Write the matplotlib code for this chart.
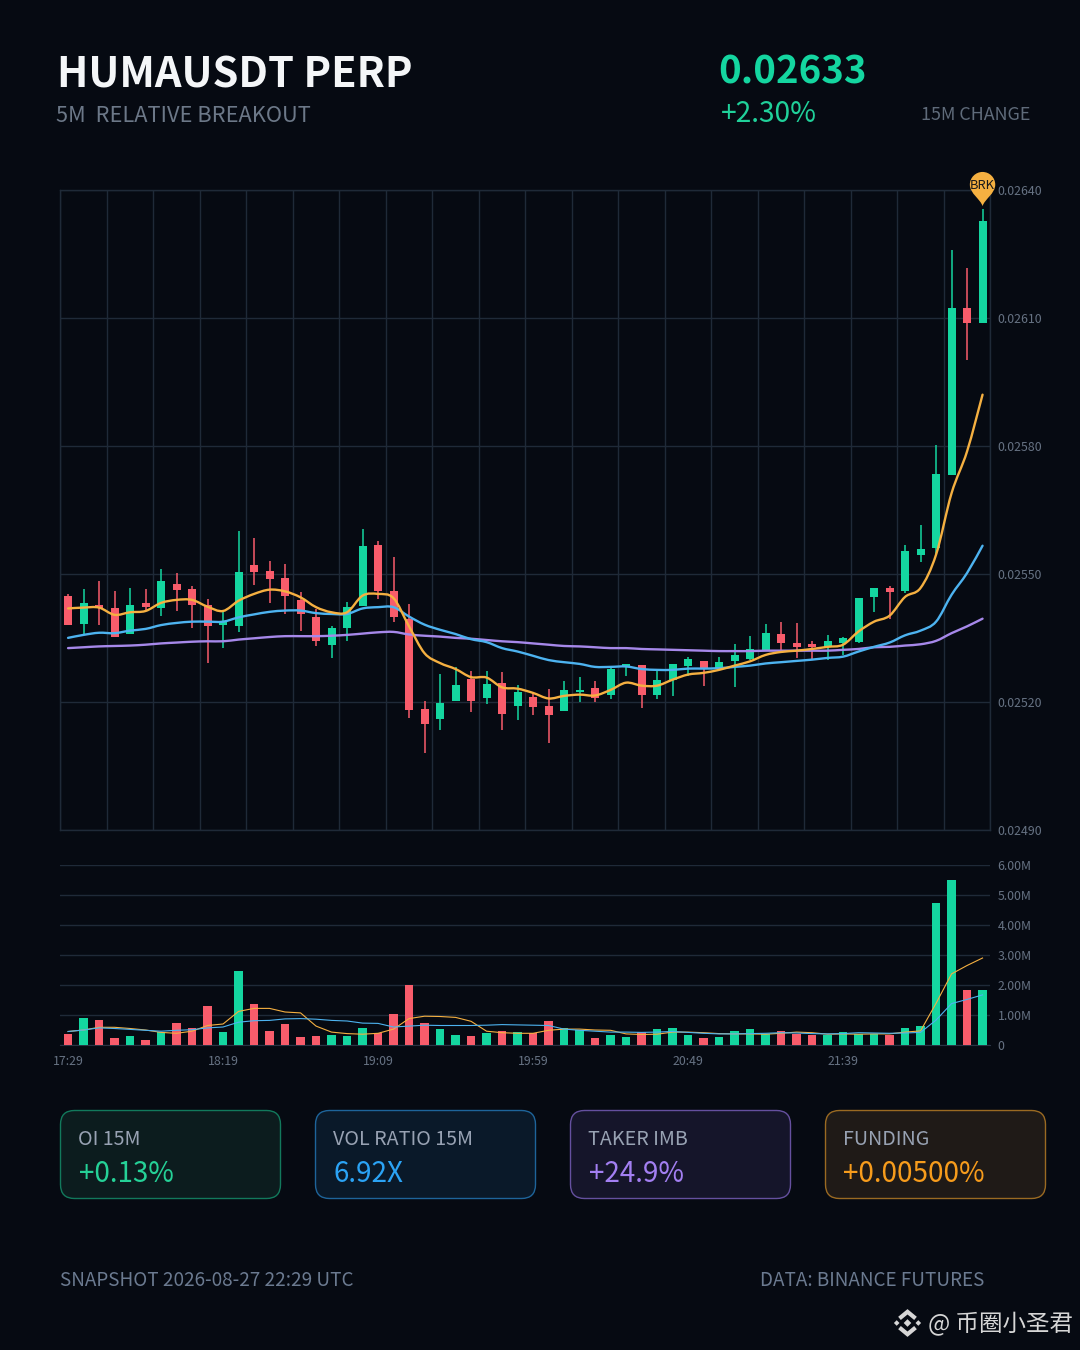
import matplotlib
matplotlib.use("Agg")
import matplotlib.pyplot as plt
import numpy as np
from matplotlib.patches import FancyBboxPatch, PathPatch, Polygon
from matplotlib.path import Path

plt.rcParams['font.family'] = ['Noto Sans CJK SC', 'DejaVu Sans']

# candles, prices in 1e-5 units
opens = [2544.9, 2538.4, 2542.9, 2542.1, 2535.9, 2543.2, 2542.2, 2547.7, 2546.5, 2542.8,
         2538.1, 2537.8, 2552.2, 2550.8, 2549.1, 2544.0, 2540.0, 2533.5, 2537.3, 2542.5,
         2556.9, 2546.1, 2539.5, 2518.4, 2516.1, 2520.4, 2525.4, 2521.1, 2524.5, 2519.2,
         2521.3, 2519.2, 2517.9, 2522.5, 2523.4, 2521.6, 2528.3, 2528.7, 2521.8, 2525.3,
         2528.6, 2529.7, 2528.1, 2529.7, 2530.2, 2532.3, 2536.1, 2533.9, 2533.6, 2533.0,
         2533.8, 2534.2, 2544.7, 2546.8, 2546.1, 2554.5, 2556.1, 2573.3, 2612.5, 2609.0]
closes = [2538.1, 2543.3, 2542.2, 2535.4, 2542.8, 2542.3, 2548.5, 2546.3, 2542.9, 2537.8,
          2538.9, 2550.6, 2550.5, 2549.0, 2544.8, 2540.7, 2534.3, 2537.4, 2542.3, 2556.7,
          2546.2, 2540.1, 2518.2, 2515.0, 2519.8, 2524.1, 2520.4, 2524.3, 2517.2, 2522.5,
          2519.0, 2517.1, 2522.9, 2522.9, 2521.1, 2527.9, 2529.0, 2521.6, 2525.2, 2529.0,
          2530.1, 2528.1, 2529.4, 2531.1, 2532.5, 2536.2, 2534.0, 2533.0, 2533.0, 2534.3,
          2535.1, 2544.4, 2546.9, 2545.8, 2555.5, 2555.9, 2573.4, 2612.5, 2609.0, 2632.9]
highs = [2545.4, 2546.6, 2548.5, 2546.1, 2546.9, 2546.6, 2551.2, 2550.3, 2547.3, 2544.2,
         2541.1, 2560.1, 2558.5, 2553.0, 2552.5, 2545.9, 2541.8, 2537.9, 2543.4, 2560.6,
         2557.9, 2554.1, 2543.1, 2520.3, 2526.6, 2528.2, 2527.4, 2527.3, 2527.0, 2524.0,
         2522.2, 2523.2, 2525.1, 2525.9, 2525.0, 2528.1, 2529.0, 2528.7, 2527.5, 2529.0,
         2530.6, 2529.7, 2530.7, 2533.7, 2535.6, 2538.4, 2538.9, 2538.6, 2534.4, 2535.8,
         2535.3, 2544.4, 2546.9, 2547.3, 2556.9, 2561.6, 2580.2, 2626.1, 2621.9, 2635.7]
lows = [2538.1, 2535.8, 2538.2, 2535.4, 2535.9, 2541.3, 2540.3, 2541.5, 2537.5, 2529.3,
        2532.8, 2536.4, 2547.6, 2543.3, 2540.8, 2536.7, 2533.1, 2530.4, 2534.3, 2542.5,
        2544.2, 2538.8, 2516.4, 2508.2, 2513.6, 2520.4, 2517.8, 2519.5, 2513.4, 2515.8,
        2517.1, 2510.5, 2517.9, 2520.0, 2520.1, 2520.8, 2526.1, 2518.6, 2520.7, 2521.4,
        2526.2, 2523.9, 2527.6, 2523.7, 2530.0, 2532.3, 2532.3, 2530.4, 2530.2, 2530.0,
        2531.1, 2533.8, 2541.1, 2539.6, 2545.7, 2552.9, 2554.8, 2573.3, 2600.3, 2609.0]

ma_fast = [2542.0, 2542.2, 2542.2, 2540.5, 2541.1, 2541.4, 2543.3, 2544.0, 2544.0, 2542.4,
           2541.4, 2543.8, 2545.4, 2546.4, 2546.0, 2544.6, 2542.3, 2541.1, 2541.1, 2545.0,
           2545.4, 2544.4, 2537.8, 2531.5, 2529.2, 2527.8, 2525.9, 2525.8, 2523.5, 2523.2,
           2522.2, 2520.9, 2521.5, 2521.8, 2521.6, 2522.9, 2524.6, 2523.9, 2523.9, 2525.3,
           2526.5, 2526.9, 2527.6, 2528.6, 2529.6, 2531.1, 2531.8, 2532.1, 2532.5, 2533.0,
           2533.5, 2536.6, 2538.9, 2540.3, 2544.7, 2546.8, 2554.6, 2569.0, 2578.8, 2592.1]
ma_mid = [2535.1, 2535.8, 2536.3, 2536.2, 2536.8, 2537.2, 2538.1, 2538.6, 2538.9, 2538.9,
          2538.9, 2539.9, 2540.6, 2541.2, 2541.5, 2541.5, 2540.9, 2540.7, 2540.7, 2542.0,
          2542.3, 2542.3, 2540.1, 2538.2, 2537.0, 2536.0, 2534.8, 2534.1, 2532.7, 2531.9,
          2530.9, 2529.9, 2529.4, 2529.0, 2528.3, 2528.3, 2528.4, 2527.8, 2527.6, 2527.6,
          2527.9, 2527.9, 2528.0, 2528.3, 2528.6, 2529.1, 2529.4, 2529.7, 2530.0, 2530.4,
          2530.7, 2531.9, 2533.0, 2534.0, 2535.7, 2536.8, 2538.9, 2545.2, 2550.3, 2556.7]
ma_slow = [2532.7, 2532.9, 2533.1, 2533.2, 2533.3, 2533.5, 2533.8, 2534.0, 2534.2, 2534.3,
           2534.3, 2534.7, 2535.0, 2535.3, 2535.5, 2535.5, 2535.5, 2535.6, 2535.8, 2536.1,
           2536.4, 2536.5, 2535.9, 2535.6, 2535.4, 2535.1, 2534.9, 2534.6, 2534.3, 2534.1,
           2533.8, 2533.5, 2533.2, 2533.1, 2532.9, 2532.7, 2532.7, 2532.5, 2532.4, 2532.3,
           2532.2, 2532.1, 2532.0, 2532.0, 2532.0, 2532.1, 2532.1, 2532.1, 2532.1, 2532.1,
           2532.3, 2532.5, 2532.9, 2533.0, 2533.3, 2533.6, 2534.4, 2536.2, 2537.8, 2539.6]

# volume in millions
volumes = [0.37, 0.90, 0.84, 0.23, 0.32, 0.18, 0.44, 0.76, 0.57, 1.31,
           0.44, 2.48, 1.39, 0.48, 0.71, 0.27, 0.32, 0.33, 0.31, 0.58,
           0.40, 1.04, 2.00, 0.76, 0.53, 0.33, 0.31, 0.40, 0.48, 0.44,
           0.40, 0.82, 0.57, 0.50, 0.23, 0.33, 0.27, 0.43, 0.53, 0.57,
           0.34, 0.26, 0.28, 0.48, 0.53, 0.38, 0.47, 0.38, 0.33, 0.33,
           0.46, 0.37, 0.39, 0.34, 0.57, 0.64, 4.73, 5.51, 1.84, 1.83]
vol_ma_fast = [0.46, 0.51, 0.60, 0.60, 0.56, 0.51, 0.43, 0.40, 0.47, 0.66,
               0.71, 1.13, 1.23, 1.23, 1.11, 1.08, 0.64, 0.44, 0.39, 0.37,
               0.40, 0.54, 0.89, 0.97, 0.96, 0.93, 0.80, 0.47, 0.42, 0.40,
               0.40, 0.50, 0.54, 0.54, 0.51, 0.50, 0.38, 0.36, 0.37, 0.44,
               0.44, 0.42, 0.39, 0.38, 0.38, 0.37, 0.40, 0.44, 0.42, 0.37,
               0.38, 0.37, 0.38, 0.38, 0.44, 0.48, 1.40, 2.38, 2.66, 2.91]
vol_ma_slow = [0.46, 0.51, 0.58, 0.56, 0.53, 0.50, 0.47, 0.50, 0.52, 0.58,
               0.61, 0.77, 0.82, 0.83, 0.88, 0.89, 0.87, 0.83, 0.81, 0.74,
               0.73, 0.61, 0.64, 0.67, 0.66, 0.66, 0.66, 0.67, 0.69, 0.68,
               0.67, 0.66, 0.54, 0.50, 0.47, 0.44, 0.44, 0.43, 0.44, 0.46,
               0.43, 0.40, 0.38, 0.38, 0.39, 0.40, 0.42, 0.41, 0.39, 0.38,
               0.39, 0.42, 0.41, 0.40, 0.41, 0.43, 0.84, 1.39, 1.53, 1.68]

price_ticks = [0.02490, 0.02520, 0.02550, 0.02580, 0.02610, 0.02640]
vol_ticks = [0, 1, 2, 3, 4, 5, 6]
vol_tick_labels = ["0", "1.00M", "2.00M", "3.00M", "4.00M", "5.00M", "6.00M"]
time_ticks = [0, 10, 20, 30, 40, 50]
time_labels = ["17:29", "18:19", "19:09", "19:59", "20:49", "21:39"]

opens = np.array(opens) / 1e5
closes = np.array(closes) / 1e5
highs = np.array(highs) / 1e5
lows = np.array(lows) / 1e5
x = np.arange(len(opens))

BG = "#060a12"
GRID = "#1f2a38"
GREEN = "#14d6a0"
RED = "#f85c6b"
ORANGE = "#f5b041"
BLUE = "#4db3f0"
PURPLE = "#a688ea"
TICK = "#667283"


def smooth_path(xs, ys):
    # catmull-rom as bezier, keeps the curve through every read value
    xs = np.asarray(xs, float)
    ys = np.asarray(ys, float)
    pts = np.column_stack([xs, ys])
    verts = [pts[0]]
    codes = [Path.MOVETO]
    for i in range(len(pts) - 1):
        p0 = pts[max(i - 1, 0)]
        p1 = pts[i]
        p2 = pts[i + 1]
        p3 = pts[min(i + 2, len(pts) - 1)]
        verts += [p1 + (p2 - p0) / 6, p2 - (p3 - p1) / 6, p2]
        codes += [Path.CURVE4, Path.CURVE4, Path.CURVE4]
    return Path(verts, codes)


W, H = 1080, 1350
fig = plt.figure(figsize=(W / 100, H / 100), dpi=100, facecolor=BG)


def axes_px(left, top, right, bottom):
    return fig.add_axes([left / W, 1 - bottom / H, (right - left) / W, (bottom - top) / H])


# price panel
ax = axes_px(60.3, 190.3, 990.3, 830.3)
ax.set_facecolor(BG)
ax.set_xlim(-0.5, 59.5)
ax.set_ylim(0.0249, 0.0264)
ax.set_xticks(np.arange(-0.5, 60, 3))
ax.set_yticks(price_ticks)
ax.grid(True, color=GRID, lw=1)
ax.set_axisbelow(True)
for s in ax.spines.values():
    s.set_color(GRID)
    s.set_linewidth(1)
ax.tick_params(length=0, labelbottom=False, labelleft=False, labelright=True,
               labelcolor=TICK, labelsize=8.9, pad=5.3)
ax.set_yticklabels(["%.5f" % t for t in price_ticks])

up = closes >= opens
colors = [GREEN if u else RED for u in up]
wicks = ax.vlines(x, lows, highs, colors=colors, lw=1.1, zorder=2)
wicks.set_snap(True)
ax.bar(x, np.abs(closes - opens), bottom=np.minimum(opens, closes), width=0.52,
       color=colors, zorder=3)

for vals, c in ((ma_slow, PURPLE), (ma_mid, BLUE), (ma_fast, ORANGE)):
    ax.add_patch(PathPatch(smooth_path(x, np.array(vals) / 1e5), fill=False, edgecolor=c,
                           lw=1.7, zorder=4, capstyle='round'))

# volume panel
vax = axes_px(60.3, 865.3, 990.3, 1045.3)
vax.set_facecolor(BG)
vax.set_xlim(-0.5, 59.5)
vax.set_ylim(0, 6)
for name, s in vax.spines.items():
    s.set_visible(name == "bottom")
    s.set_color("#2a3444")
vax.set_yticks(vol_ticks)
vax.set_yticklabels(vol_tick_labels)
vax.set_xticks(time_ticks)
vax.set_xticklabels(time_labels)
vax.yaxis.tick_right()
vax.grid(True, axis="y", color=GRID, lw=1)
vax.set_axisbelow(True)
vax.tick_params(axis="y", length=0, labelcolor=TICK, labelsize=8.9, pad=5.3)
vax.tick_params(axis="x", length=0, labelcolor=TICK, labelsize=8.9, pad=7)
vax.bar(x, volumes, width=0.56, color=colors, zorder=3)
vax.plot(x, vol_ma_fast, color=ORANGE, lw=0.8, zorder=4)
vax.plot(x, vol_ma_slow, color=BLUE, lw=0.8, zorder=4)

# overlay in pixel coordinates for header, cards and footer
ov = fig.add_axes([0, 0, 1, 1], zorder=10)
ov.set_xlim(0, W)
ov.set_ylim(H, 0)
ov.axis("off")
ov.patch.set_alpha(0)


def txt(px, py, s, size, color, ha="left", weight="normal"):
    ov.text(px, py, s, fontsize=size * 0.72, color=color, ha=ha, va="center", fontweight=weight)


txt(57, 75.5, "HUMAUSDT PERP", 41.6, "#f4f6f8", weight="bold")
txt(56, 116.5, "5M  RELATIVE BREAKOUT", 21.8, "#6c7888")
txt(718.5, 72.5, "0.02633", 38.4, GREEN, weight="bold")
txt(720.5, 114, "+2.30%", 28.1, "#20d19a")
txt(1030, 114.5, "15M CHANGE", 17.9, "#5f6b7a", ha="right")

cards = [
    (60.5, "OI 15M", "+0.13%", "#0c1c1e", "#12795c", "#25d197"),
    (315.5, "VOL RATIO 15M", "6.92X", "#0a1929", "#1e649a", "#2ba3f5"),
    (570.5, "TAKER IMB", "+24.9%", "#15152a", "#65509f", "#a37ff2"),
    (825.5, "FUNDING", "+0.00500%", "#1f1a17", "#9a6a22", "#f79c1c"),
]
for left, label, value, face, edge, vcolor in cards:
    ov.add_patch(FancyBboxPatch((left + 14, 1110.5 + 14), 220 - 28, 88 - 28,
                                boxstyle="round,pad=14,rounding_size=14",
                                facecolor=face, edgecolor=edge, lw=1))
    txt(left + 17.5, 1139.5, label, 19.7, "#98a2b3")
    txt(left + 18, 1173.5, value, 27.8, vcolor)

txt(60, 1281, "SNAPSHOT 2026-08-27 22:29 UTC", 18.9, "#6b7a90")
txt(984, 1281, "DATA: BINANCE FUTURES", 18.9, "#6b7a90", ha="right")

# BRK pin sitting on top of the last high
tip_px = ax.transData.transform((x[-1], highs[-1]))
tipx, tipy = ov.transData.inverted().transform(tip_px)
tipy -= 2.5
r = 12.7
cy = tipy - 21.5
k = 0.5523
pin = Path(
    [(tipx, tipy),
     (tipx - 2, tipy - 7), (tipx - r, cy + 9), (tipx - r, cy),
     (tipx - r, cy - k * r), (tipx - k * r, cy - r), (tipx, cy - r),
     (tipx + k * r, cy - r), (tipx + r, cy - k * r), (tipx + r, cy),
     (tipx + r, cy + 9), (tipx + 2, tipy - 7), (tipx, tipy)],
    [Path.MOVETO] + [Path.CURVE4] * 12)
ov.add_patch(PathPatch(pin, facecolor=ORANGE, edgecolor="none"))
ov.text(tipx, cy + 1, "BRK", fontsize=9.3, color="#1a1a1a", ha="center", va="center")

# watermark
LOGO = "#d6d6d6"
lx, ly = 907.5, 1323
for dx, dy, s in ((0, 0, 3.8), (-10.8, 0, 2.8), (10.8, 0, 2.8)):
    ov.add_patch(Polygon([(lx + dx - s, ly + dy), (lx + dx, ly + dy - s),
                          (lx + dx + s, ly + dy), (lx + dx, ly + dy + s)],
                         facecolor=LOGO, edgecolor="none"))
ov.plot([lx - 8, lx, lx + 8], [ly - 4.6, ly - 11.2, ly - 4.6], color=LOGO, lw=3,
        solid_joinstyle="miter", solid_capstyle="butt")
ov.plot([lx - 8, lx, lx + 8], [ly + 4.6, ly + 11.2, ly + 4.6], color=LOGO, lw=3,
        solid_joinstyle="miter", solid_capstyle="butt")
txt(927.5, 1324, "@ 币圈小圣君", 23.5, LOGO)

fig.savefig("out.png", dpi=100, facecolor=BG)
